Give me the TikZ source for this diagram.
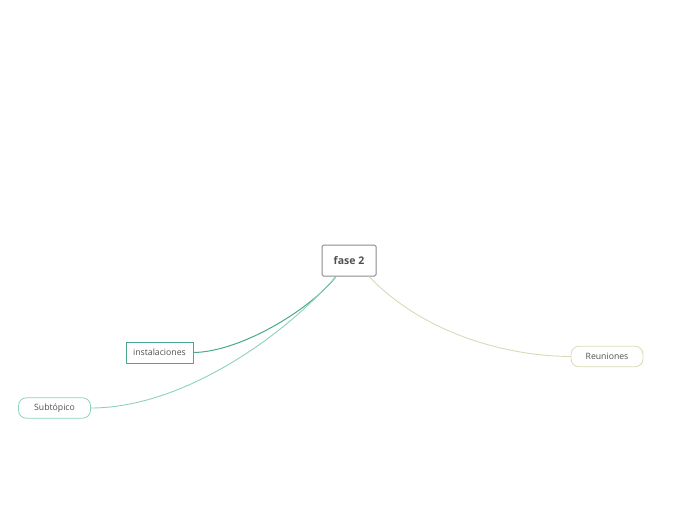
\documentclass[tikz,border=0pt]{standalone}
\usepackage{fontspec}
\setmainfont{Open Sans}
\usetikzlibrary{positioning}
\definecolor{rootgray}{HTML}{8A8A8A}
\definecolor{textgray}{HTML}{505050}
\definecolor{tealdark}{HTML}{4BA78F}
\definecolor{teallight}{HTML}{8DD2BC}
\definecolor{beige}{HTML}{DCD8B6}
\tikzset{
	x=1pt, y=-1pt, % image coordinates
	rootbox/.style={draw=rootgray, line width=1pt, rounded corners=1.5pt, minimum width=54pt, minimum height=31pt, font=\bfseries\fontsize{10.5}{12}\selectfont, text=textgray}, % the main topic
	topicbox/.style={draw=tealdark, line width=0.8pt, minimum width=67pt, minimum height=21pt, font=\fontsize{8.7}{10}\selectfont, text=textgray}, % rectangular subtopic
	pillbox/.style={line width=0.8pt, rounded corners=8pt, minimum width=72pt, minimum height=20.5pt, font=\fontsize{8.7}{10}\selectfont, text=textgray}, % rounded subtopic
}
\begin{document}
\begin{tikzpicture}
	\useasboundingbox (0,0) rectangle (696,520);
	\node[rootbox] (root) at (349,260.5) {fase 2};
	\node[topicbox] (inst) at (159.5,352.5) {instalaciones};
	\node[pillbox, draw=teallight] (sub) at (54.5,408) {Subtópico};
	\node[pillbox, draw=beige] (reun) at (607,356.5) {Reuniones};
	
	\coordinate (rl) at ([xshift=-13pt]root.south);
	\coordinate (rr) at ([xshift=20pt]root.south);
	\draw[tealdark, line width=1pt] (rl) .. controls (310,310) and (240,352) .. (inst.east);
	\draw[teallight, line width=0.9pt] (rl) .. controls (280,340) and (180,408) .. (sub.east);
	\draw[beige, line width=0.9pt] (rr) .. controls (420,330) and (500,356) .. (reun.west);
\end{tikzpicture}
\end{document}
